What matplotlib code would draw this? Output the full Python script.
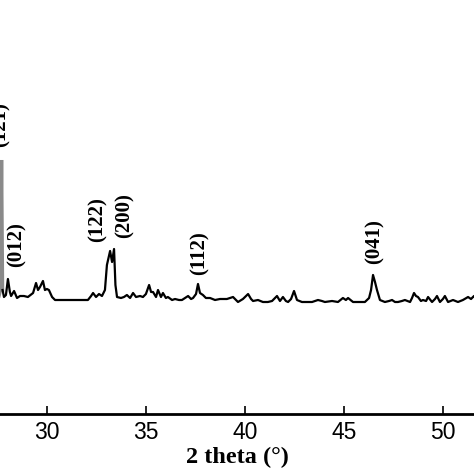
import numpy as np
import matplotlib
matplotlib.use("Agg")
import matplotlib.pyplot as plt

# XRD pattern (2 theta in degrees, intensity in a.u.)
two_theta = [27.58, 27.66, 27.71, 27.76, 27.83, 27.93, 28.03, 28.13, 28.19, 28.34,
             28.49, 28.64, 28.84, 29.04, 29.30, 29.45, 29.55, 29.65, 29.80, 29.90,
             30.00, 30.10, 30.26, 30.41, 30.66, 31.17, 31.67, 32.07, 32.23, 32.33,
             32.48, 32.63, 32.78, 32.93, 33.03, 33.19, 33.29, 33.39, 33.46, 33.54,
             33.74, 33.89, 34.04, 34.20, 34.35, 34.50, 34.70, 34.85, 35.00, 35.16,
             35.26, 35.36, 35.51, 35.61, 35.76, 35.86, 36.01, 36.11, 36.32, 36.47,
             36.67, 36.82, 36.97, 37.13, 37.28, 37.38, 37.53, 37.63, 37.73, 37.88,
             38.03, 38.24, 38.49, 38.74, 39.09, 39.40, 39.65, 39.90, 40.16, 40.31,
             40.41, 40.66, 40.91, 41.16, 41.37, 41.62, 41.77, 41.92, 42.07, 42.18,
             42.33, 42.48, 42.63, 42.88, 43.39, 43.69, 43.89, 44.04, 44.40, 44.70,
             44.95, 45.10, 45.21, 45.46, 45.81, 46.06, 46.27, 46.37, 46.47, 46.57,
             46.67, 46.82, 47.07, 47.28, 47.43, 47.58, 47.73, 47.93, 48.08, 48.34,
             48.44, 48.54, 48.64, 48.74, 48.89, 48.99, 49.15, 49.25, 49.45, 49.60,
             49.70, 49.85, 50.00, 50.10, 50.26, 50.51, 50.76, 51.01, 51.27, 51.42,
             51.57, 51.67]
intensity = [118, 124, 254, 124, 117, 119, 135, 122, 118, 123,
             116, 118, 118, 117, 121, 131, 124, 127, 133, 124,
             125, 124, 117, 114, 114, 114, 114, 114, 118, 121,
             117, 120, 118, 124, 149, 163, 152, 165, 129, 117,
             116, 117, 119, 116, 121, 117, 118, 117, 120, 129,
             122, 122, 117, 124, 117, 121, 116, 117, 114, 115,
             114, 114, 116, 118, 115, 116, 120, 130, 121, 119,
             116, 116, 114, 115, 115, 117, 112, 115, 120, 115,
             113, 114, 112, 112, 113, 118, 113, 117, 113, 112,
             115, 123, 114, 112, 112, 114, 113, 112, 113, 112,
             116, 114, 116, 112, 112, 112, 116, 124, 139, 132,
             124, 114, 112, 113, 114, 112, 112, 113, 114, 112,
             116, 121, 118, 117, 113, 114, 113, 117, 112, 115,
             118, 112, 115, 118, 112, 114, 112, 114, 117, 115,
             118, 117]

# Miller indices and where their labels sit
peak_labels = ["(121)", "(012)", "(122)", "(200)", "(112)", "(041)"]
label_x = [27.66, 28.49, 32.58, 33.94, 37.73, 46.57]
label_y = [289, 169, 194, 198, 161, 172]

tt = np.array(two_theta)
it = np.array(intensity)

fig = plt.figure(figsize=(4.74, 4.74), dpi=100)
ax = fig.add_axes([0, 60 / 474, 1, 414 / 474])

main = tt <= 27.80
ax.plot(tt[main], it[main], color="#8a8a8a", lw=2.4, solid_joinstyle="miter")
rest = tt >= 27.76
ax.plot(tt[rest], it[rest], color="black", lw=1.6)

for lab, lx, ly in zip(peak_labels, label_x, label_y):
    ax.text(lx, ly, lab, rotation=90, ha="center", va="center",
            fontsize=15, fontweight="bold", family="Liberation Serif")

ax.set_xlim(27.63, 51.57)
ax.set_ylim(0, 414)
ax.set_xticks([30, 35, 40, 45, 50])
ax.tick_params(axis="x", direction="in", length=6, width=1.2, pad=5,
               labelsize=16.5)
for t in ax.get_xticklabels():
    t.set_family("Liberation Sans")
ax.set_yticks([])
for s in ["left", "right", "top"]:
    ax.spines[s].set_visible(False)
ax.spines["bottom"].set_linewidth(2)
ax.set_xlabel("2 theta (°)", fontsize=17.5, fontweight="bold",
              family="Liberation Serif", labelpad=2)

fig.savefig("out.png", dpi=100)
